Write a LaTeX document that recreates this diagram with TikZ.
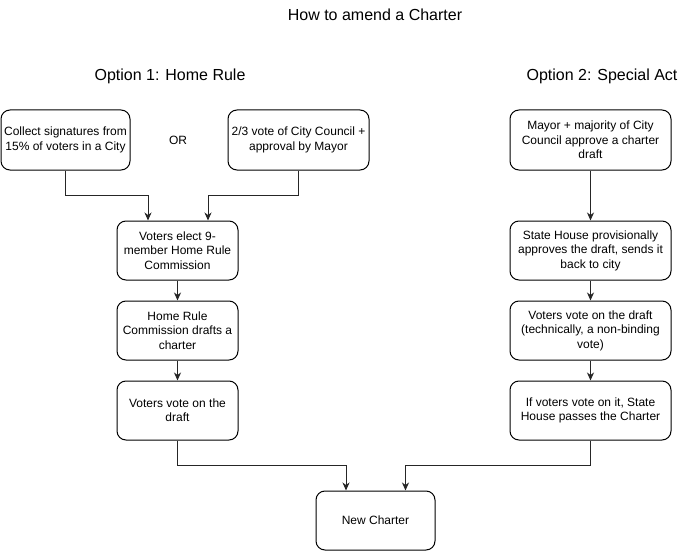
\documentclass[tikz,border=0pt]{standalone}
\usepackage{fontspec}
\setmainfont{Liberation Sans}
\usetikzlibrary{arrows.meta}
\begin{document}
\begin{tikzpicture}[x=1pt,y=-1pt,
  box/.style={draw=black, line width=1pt, rounded corners=9pt, align=center,
    inner sep=0pt, font=\fontsize{12}{14.4}\selectfont, text=black},
  lbl/.style={font=\fontsize{12}{14.4}\selectfont, text=black, inner sep=0pt},
  head/.style={font=\fontsize{16}{19}\selectfont, text=black, inner sep=0pt},
  conn/.style={draw=black!85, line width=1pt, -{Stealth[length=8pt,width=7pt,inset=2.5pt]}}]
\useasboundingbox (0,0) rectangle (681,551);
\fill[white] (0,0) rectangle (681,551);

\node[head] (title) at (375,15) {How to amend a Charter};
\node[head] (opt1) at (170,76) {Option 1: Home Rule};
\node[head] (opt2) at (602,76) {Option 2: Special Act};

\node[box, minimum width=129pt, minimum height=60pt] (A) at (65.5,140) {Collect signatures from\\15\% of voters in a City};
\node[lbl] (or) at (178,140) {OR};
\node[box, minimum width=141pt, minimum height=60pt] (B) at (298.5,140) {2/3 vote of City Council +\\approval by Mayor};

\node[box, minimum width=121pt, minimum height=59pt] (C) at (177.5,250.5) {Voters elect 9-\\member Home Rule\\Commission};
\node[box, minimum width=121pt, minimum height=59pt] (D) at (177.5,330.5) {Home Rule\\Commission drafts a\\charter};
\node[box, minimum width=121pt, minimum height=59pt] (E) at (177.5,410.5) {Voters vote on the\\draft};

\node[box, minimum width=161pt, minimum height=60pt] (F) at (590.5,140) {Mayor + majority of City\\Council approve a charter\\draft};
\node[box, minimum width=161pt, minimum height=59pt] (G) at (590.5,250.5) {State House provisionally\\approves the draft, sends it\\back to city};
\node[box, minimum width=161pt, minimum height=59pt] (H) at (590.5,330.5) {Voters vote on the draft\\(technically, a non-binding\\vote)};
\node[box, minimum width=161pt, minimum height=59pt] (I) at (590.5,410.5) {If voters vote on it, State\\House passes the Charter};

\node[box, minimum width=119pt, minimum height=59pt] (N) at (375.5,520.5) {New Charter};

\draw[conn] (A.south) -- ++(0,25) -| ([xshift=-29.5pt]C.north);
\draw[conn] (B.south) -- ++(0,25) -| ([xshift=30.5pt]C.north);
\draw[conn] (C) -- (D);
\draw[conn] (D) -- (E);
\draw[conn] (F) -- (G);
\draw[conn] (G) -- (H);
\draw[conn] (H) -- (I);
\draw[conn] (E.south) -- ++(0,25) -| ([xshift=-29.5pt]N.north);
\draw[conn] (I.south) -- ++(0,25) -| ([xshift=30pt]N.north);
\end{tikzpicture}
\end{document}
